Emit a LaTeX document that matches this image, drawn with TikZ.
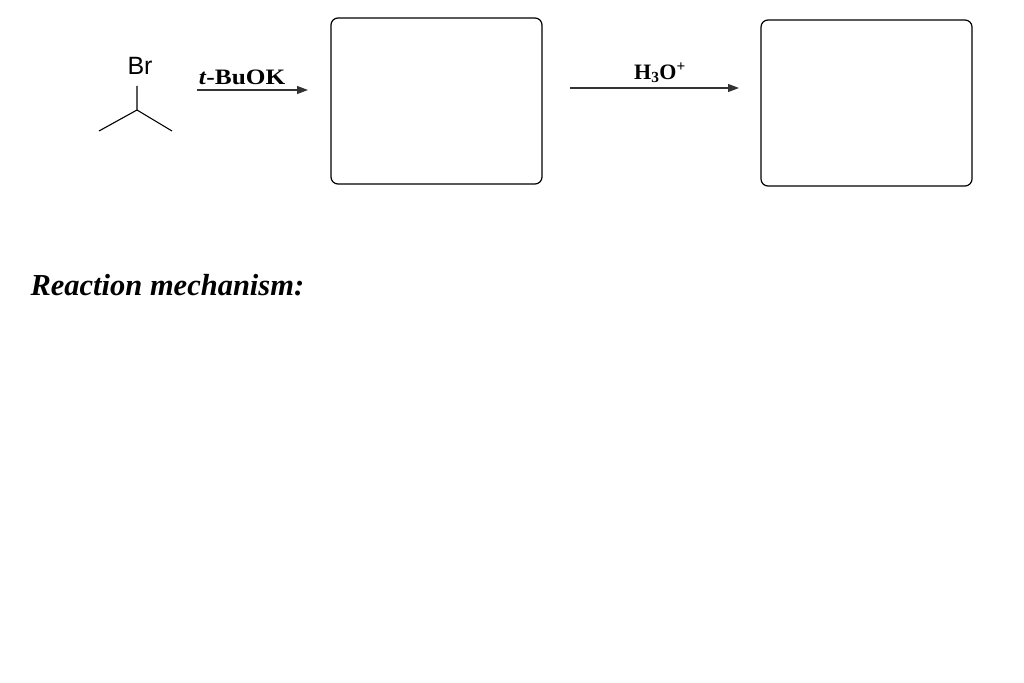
\documentclass[tikz,border=0pt]{standalone}
\usepackage{fontspec}
\setmainfont{Liberation Serif}
\newfontfamily\arialf{Liberation Sans}
\usetikzlibrary{arrows.meta}
\begin{document}
\begin{tikzpicture}[x=1pt,y=-1pt,
  bond/.style={line width=1.1pt},
  rarrow/.style={line width=1.1pt,draw=black!80,-{Triangle[length=11pt,width=8pt]}},
  prodbox/.style={draw,line width=1.2pt,rounded corners=7pt},
  lbl/.style={font=\fontsize{22}{25}\selectfont\bfseries}]
\useasboundingbox (0,0) rectangle (1024,682);
\node[font=\arialf\fontsize{25}{28}\selectfont] (br) at (140,66) {Br};
\coordinate (c0) at (137,86);
\coordinate (c1) at (137,110);
\coordinate (c2) at (99,131);
\coordinate (c3) at (172,131);
\draw[bond] (c0)--(c1)--(c2) (c1)--(c3);
\coordinate (a1s) at (197,90); \coordinate (a1e) at (308,90);
\draw[rarrow] (a1s)--(a1e);
\node[lbl,xscale=1.15] (l1) at (242,77) {\textit{t}-BuOK};
\node[prodbox,minimum width=211pt,minimum height=166pt] (p1) at (436.5,101) {};
\coordinate (a2s) at (570,88); \coordinate (a2e) at (739,88);
\draw[rarrow] (a2s)--(a2e);
\node[lbl] (l2) at (660,73) {H\textsubscript{3}O\textsuperscript{+}};
\node[prodbox,minimum width=211pt,minimum height=166pt] (p2) at (866.5,103) {};
\node[anchor=west,font=\fontsize{30.5}{34}\selectfont\bfseries\itshape] (rm) at (27,285) {Reaction mechanism:};
\end{tikzpicture}
\end{document}
